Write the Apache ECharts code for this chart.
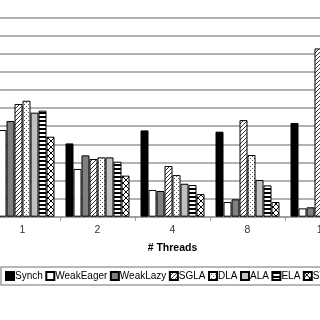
<!DOCTYPE html>
<html>
<head>
<meta charset="utf-8">
<script src="https://cdn.jsdelivr.net/npm/echarts@6/dist/echarts.min.js"></script>
<style>
    html, body { margin: 0; padding: 0; background: #fff; overflow: hidden; }
    #wrap { position: relative; width: 320px; height: 320px; overflow: hidden; }
    #chart { position: absolute; left: -60px; top: 0; width: 520px; height: 320px; }
</style>
</head>
<body>
<div id="wrap"><div id="chart"></div></div>
<script>
    // # Threads categories
    const threads = ['1', '2', '4', '8', '16'];
    const seriesNames = ['Synch', 'WeakEager', 'WeakLazy', 'SGLA', 'DLA', 'ALA', 'ELA', 'STM'];

    // values (one grid step = 1)
    const synch     = [5.0, 4.05, 4.77, 4.70, 5.18];
    const weakEager = [4.79, 2.64, 1.48, 0.81, 0.46];
    const weakLazy  = [5.29, 3.39, 1.42, 0.96, 0.52];
    const sgla      = [6.23, 3.19, 2.80, 5.34, 9.30];
    const dla       = [6.41, 3.28, 2.30, 3.41, 4.5];
    const ala       = [5.75, 3.28, 1.82, 2.03, 2.5];
    const ela       = [5.86, 3.04, 1.75, 1.73, 2.0];
    const stm       = [4.42, 2.27, 1.25, 0.81, 1.0];

    const yTicks = [0, 1, 2, 3, 4, 5, 6, 7, 8, 9, 10, 11];

    const FONT = "'Liberation Sans', Arial, sans-serif";

    // small tiles for the hatched fills
    function makeTile(w, h, draw) {
        let c = document.createElement('canvas');
        c.width = w;
        c.height = h;
        let ctx = c.getContext('2d');
        ctx.fillStyle = '#fff';
        ctx.fillRect(0, 0, w, h);
        ctx.fillStyle = '#000';
        ctx.strokeStyle = '#000';
        draw(ctx);
        return { image: c, repeat: 'repeat' };
    }

    const diagFill = makeTile(4, 4, function (ctx) {
        ctx.fillStyle = '#333';
        ctx.fillRect(3, 0, 1, 1);
        ctx.fillRect(2, 1, 1, 1);
        ctx.fillRect(1, 2, 1, 1);
        ctx.fillRect(0, 3, 1, 1);
    });
    const dotFill = makeTile(4, 4, function (ctx) {
        ctx.fillStyle = '#555';
        ctx.fillRect(0, 0, 1, 1);
        ctx.fillRect(2, 2, 1, 1);
    });
    const stripeFill = makeTile(4, 4, function (ctx) {
        ctx.fillRect(0, 0, 4, 2);
    });
    const crossFill = makeTile(6, 6, function (ctx) {
        ctx.lineWidth = 1;
        ctx.beginPath();
        ctx.moveTo(0, 0); ctx.lineTo(6, 6);
        ctx.moveTo(6, 0); ctx.lineTo(0, 6);
        ctx.stroke();
    });

    const seriesData = [synch, weakEager, weakLazy, sgla, dla, ala, ela, stm];
    const fills = ['#000', '#fff', '#808080', diagFill, dotFill, '#c0c0c0', stripeFill, crossFill];

    let chart = echarts.init(document.getElementById('chart'));
    let option = {
        animation: false,
        textStyle: { fontFamily: FONT },
        grid: {
            left: 45,
            right: 100,
            top: 17.7,
            bottom: 103.3
        },
        legend: {
            data: seriesNames,
            left: 61,
            top: 267,
            padding: [4, 4],
            itemGap: 2.5,
            itemWidth: 8,
            itemHeight: 8,
            icon: 'rect',
            borderColor: '#a0a0a0',
            borderWidth: 1.5,
            textStyle: { fontSize: 10, color: '#000', fontFamily: FONT, padding: [0, 4, 0, -4] }
        },
        xAxis: {
            type: 'category',
            data: threads,
            name: '# Threads',
            nameLocation: 'middle',
            nameGap: 26,
            nameTextStyle: { fontSize: 10.5, fontWeight: 'bold', color: '#000', fontFamily: FONT },
            axisLine: { lineStyle: { color: '#999', width: 1.5 } },
            axisTick: { show: true, length: 4, lineStyle: { color: '#999' } },
            axisLabel: { fontSize: 10.5, color: '#333', margin: 8, fontFamily: FONT }
        },
        yAxis: {
            type: 'value',
            min: yTicks[0],
            max: yTicks[yTicks.length - 1],
            interval: 1,
            axisLine: { show: true, lineStyle: { color: '#999' } },
            axisTick: { show: false },
            axisLabel: { show: false },
            splitLine: { lineStyle: { color: '#999', width: 1.5 } }
        },
        series: seriesNames.map(function (name, i) {
            return {
                name: name,
                type: 'bar',
                barWidth: 8,
                barGap: '0%',
                data: seriesData[i],
                itemStyle: {
                    color: fills[i],
                    borderColor: '#000',
                    borderWidth: 1
                }
            };
        })
    };
    chart.setOption(option);
</script>
</body>
</html>
